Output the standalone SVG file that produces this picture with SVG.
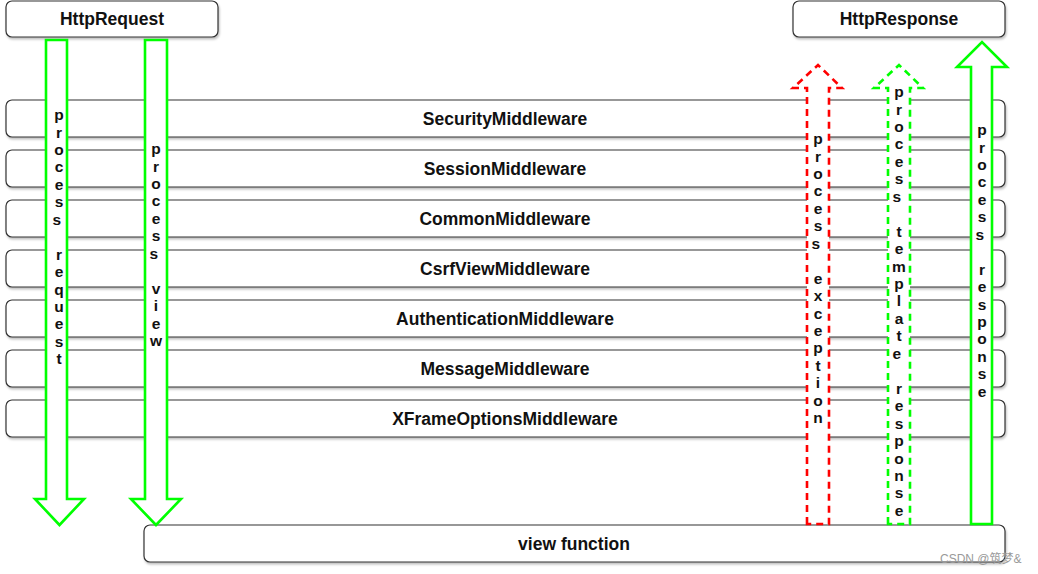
<svg xmlns="http://www.w3.org/2000/svg" width="1038" height="574" viewBox="0 0 1038 574">
<defs>
<filter id="sh" x="-5%" y="-20%" width="110%" height="150%">
<feDropShadow dx="1" dy="2" stdDeviation="0.8" flood-color="#000" flood-opacity="0.25"/>
</filter>
<style>
.box{fill:#fff;stroke:#333;stroke-width:1.2;filter:url(#sh)}
.lbl{font-family:"Liberation Sans",Arial,sans-serif;font-weight:bold;font-size:17.5px;fill:#111;text-anchor:middle}
.vl{font-family:"Liberation Sans",Arial,sans-serif;font-weight:bold;font-size:15.5px;fill:#111;text-anchor:middle}
.solid{fill:#fff;stroke:#00ff00;stroke-width:2.6}
.dashr{fill:#fff;stroke:#ff0000;stroke-width:2.6;stroke-dasharray:7,5}
.dashg{fill:#fff;stroke:#00ff00;stroke-width:2.6;stroke-dasharray:7,5}
.wm{font-family:"Liberation Sans",Arial,"Noto Sans CJK SC",sans-serif;font-size:12px;fill:#999}
</style>
</defs>
<rect width="1038" height="574" fill="#fff"/>

<g id="httprequest"><rect class="box" x="6" y="1" width="212" height="36" rx="6"/><text class="lbl" x="112" y="25">HttpRequest</text></g>
<g id="httpresponse"><rect class="box" x="793" y="1" width="212" height="36" rx="6"/><text class="lbl" x="899" y="25">HttpResponse</text></g>

<g id="security"><rect class="box" x="6" y="100" width="999" height="37" rx="6"/><text class="lbl" x="505" y="125">SecurityMiddleware</text></g>
<g id="session"><rect class="box" x="6" y="150" width="999" height="37" rx="6"/><text class="lbl" x="505" y="175">SessionMiddleware</text></g>
<g id="common"><rect class="box" x="6" y="200" width="999" height="37" rx="6"/><text class="lbl" x="505" y="225">CommonMiddleware</text></g>
<g id="csrf"><rect class="box" x="6" y="250" width="999" height="37" rx="6"/><text class="lbl" x="505" y="275">CsrfViewMiddleware</text></g>
<g id="auth"><rect class="box" x="6" y="300" width="999" height="37" rx="6"/><text class="lbl" x="505" y="325">AuthenticationMiddleware</text></g>
<g id="message"><rect class="box" x="6" y="350" width="999" height="37" rx="6"/><text class="lbl" x="505" y="375">MessageMiddleware</text></g>
<g id="xframe"><rect class="box" x="6" y="400" width="999" height="37" rx="6"/><text class="lbl" x="505" y="425">XFrameOptionsMiddleware</text></g>

<g id="viewfunction"><rect class="box" x="144" y="525" width="861" height="37" rx="6"/><text class="lbl" x="574" y="550">view function</text></g>

<g id="connectors">
<g id="process-request">
<path class="solid" d="M46,40 H67 V499 H84 L59.5,525 L35,499 H46 Z"/>
<text class="vl"><tspan x="59" y="120">p</tspan><tspan x="59" y="137.5">r</tspan><tspan x="59" y="154.9">o</tspan><tspan x="59" y="172.4">c</tspan><tspan x="59" y="189.8">e</tspan><tspan x="59" y="207.3">s</tspan><tspan x="59" y="224.7">s</tspan> <tspan x="59" y="259.6">r</tspan><tspan x="59" y="277.1">e</tspan><tspan x="59" y="294.5">q</tspan><tspan x="59" y="312">u</tspan><tspan x="59" y="329.4">e</tspan><tspan x="59" y="346.9">s</tspan><tspan x="59" y="364.3">t</tspan></text>
</g>
<g id="process-view">
<path class="solid" d="M145,40 H167 V499 H181 L156,525 L131,499 H145 Z"/>
<text class="vl"><tspan x="156" y="154">p</tspan><tspan x="156" y="171.5">r</tspan><tspan x="156" y="188.9">o</tspan><tspan x="156" y="206.4">c</tspan><tspan x="156" y="223.8">e</tspan><tspan x="156" y="241.3">s</tspan><tspan x="156" y="258.7">s</tspan> <tspan x="156" y="293.6">v</tspan><tspan x="156" y="311.1">i</tspan><tspan x="156" y="328.5">e</tspan><tspan x="156" y="346">w</tspan></text>
</g>
<g id="process-exception">
<path class="dashr" d="M807,524 V88 H793 L818,65 L842,88 H829 V524 Z"/>
<text class="vl"><tspan x="818" y="144">p</tspan><tspan x="818" y="161.5">r</tspan><tspan x="818" y="178.9">o</tspan><tspan x="818" y="196.4">c</tspan><tspan x="818" y="213.8">e</tspan><tspan x="818" y="231.3">s</tspan><tspan x="818" y="248.7">s</tspan> <tspan x="818" y="283.6">e</tspan><tspan x="818" y="301.1">x</tspan><tspan x="818" y="318.5">c</tspan><tspan x="818" y="336">e</tspan><tspan x="818" y="353.4">p</tspan><tspan x="818" y="370.9">t</tspan><tspan x="818" y="388.3">i</tspan><tspan x="818" y="405.8">o</tspan><tspan x="818" y="423.2">n</tspan></text>
</g>
<g id="process-template-response">
<path class="dashg" d="M888,524 V88 H874 L899,65 L923,88 H910 V524 Z"/>
<text class="vl"><tspan x="899" y="97">p</tspan><tspan x="899" y="114.5">r</tspan><tspan x="899" y="131.9">o</tspan><tspan x="899" y="149.4">c</tspan><tspan x="899" y="166.8">e</tspan><tspan x="899" y="184.3">s</tspan><tspan x="899" y="201.7">s</tspan> <tspan x="899" y="236.6">t</tspan><tspan x="899" y="254.1">e</tspan><tspan x="899" y="271.5">m</tspan><tspan x="899" y="289">p</tspan><tspan x="899" y="306.4">l</tspan><tspan x="899" y="323.9">a</tspan><tspan x="899" y="341.3">t</tspan><tspan x="899" y="358.8">e</tspan> <tspan x="899" y="393.7">r</tspan><tspan x="899" y="411.2">e</tspan><tspan x="899" y="428.6">s</tspan><tspan x="899" y="446.1">p</tspan><tspan x="899" y="463.5">o</tspan><tspan x="899" y="481">n</tspan><tspan x="899" y="498.4">s</tspan><tspan x="899" y="515.9">e</tspan></text>
</g>
<g id="process-response">
<path class="solid" d="M971,524 V67 H957 L982,42 L1007,67 H992 V524 Z"/>
<text class="vl"><tspan x="982" y="135">p</tspan><tspan x="982" y="152.5">r</tspan><tspan x="982" y="169.9">o</tspan><tspan x="982" y="187.4">c</tspan><tspan x="982" y="204.8">e</tspan><tspan x="982" y="222.3">s</tspan><tspan x="982" y="239.7">s</tspan> <tspan x="982" y="274.6">r</tspan><tspan x="982" y="292.1">e</tspan><tspan x="982" y="309.5">s</tspan><tspan x="982" y="327">p</tspan><tspan x="982" y="344.4">o</tspan><tspan x="982" y="361.9">n</tspan><tspan x="982" y="379.3">s</tspan><tspan x="982" y="396.8">e</tspan></text>
</g>
</g>
<text class="wm" x="940" y="563">CSDN @筑梦&amp;</text>
</svg>
